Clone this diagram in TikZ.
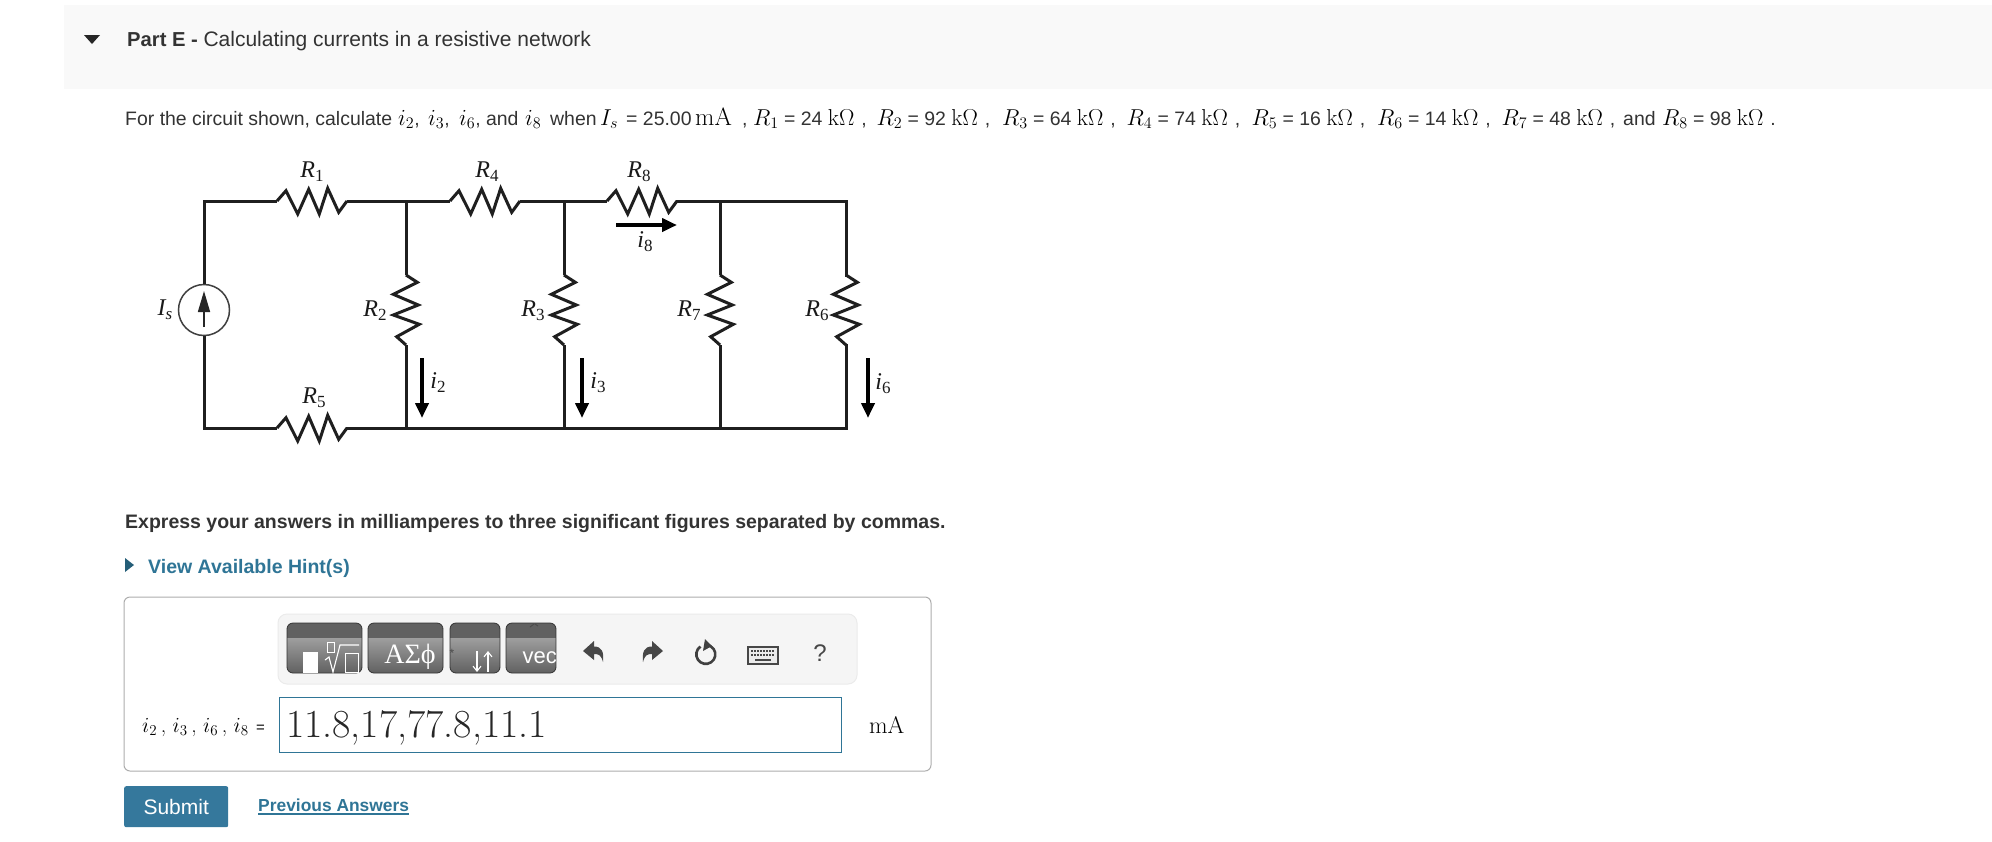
\RequirePackage{fix-cm}
\documentclass[tikz,border=0pt]{standalone}
\usepackage[no-math]{fontspec}
\setsansfont{Liberation Sans}
\newfontfamily\cfont{Liberation Serif}
\usetikzlibrary{arrows.meta}
\definecolor{ink}{HTML}{333333}
\definecolor{teal}{HTML}{2F7596}
\definecolor{btn}{HTML}{35789C}
\tikzset{
 wire/.style={line width=3pt,black!88,line join=miter},
 curarrow/.style={line width=4.6pt,black,-{Triangle[length=15pt,width=13pt]}},
 lab/.style={inner sep=0pt,font=\cfont\fontsize{24}{26}\selectfont,text=black!90},
 txt/.style={inner sep=0pt,anchor=base west,text=ink,font=\sffamily\fontsize{19.45}{24}\selectfont},
 bold/.style={txt,font=\sffamily\bfseries\fontsize{19.5}{24}\selectfont},
 icon/.style={fill=black!72,draw=none},
}
\newcommand{\lbl}[2]{{\itshape #1}\raisebox{-4pt}{\fontsize{17}{18}\selectfont #2}}
\newcommand{\ilbl}[2]{{\itshape #1\raisebox{-4pt}{\fontsize{17}{18}\selectfont #2}}}
\newcommand{\mth}[1]{{\fontsize{23}{24}\selectfont\color{black}$#1$}}
\newcommand{\kOhm}{\mth{\mathrm{k}\Omega}}
\newcommand{\hres}[2]{\draw[wire] (#1) -- ++(9,-10.3) -- ++(11.7,23.3) -- ++(11,-24.7) -- ++(10.6,24.7) -- ++(8.4,-25.7) -- ++(11,24) -- (#2);}
\newcommand{\vres}[2]{\draw[wire] (#1) -- ++(11.3,7.3) -- ++(-24,12) -- ++(25,10.7) -- ++(-25,10) -- ++(26,9.3) -- ++(-22.6,12.4) -- (#2);}
\newcommand{\tbtn}[2]{%
 \begin{scope}
 \clip[rounded corners=6pt] (#1,623) rectangle (#2,673);
 \fill[black!62] (#1,623) rectangle (#2,638);
 \shade[top color=black!38,bottom color=black!62] (#1,638) rectangle (#2,673);
 \end{scope}
 \draw[black!80,line width=0.8pt,rounded corners=6pt] (#1,623) rectangle (#2,673);}
\begin{document}
\begin{tikzpicture}[x=1pt,y=-1pt]
\useasboundingbox (0,0) rectangle (1992,841);
\fill[white] (0,0) rectangle (1992,841);
\fill[black!2.5] (64,5) rectangle (1992,89);
\fill[black!85] (84,35) -- (100,35) -- (92,44) -- cycle;
\node[bold,font=\sffamily\bfseries\fontsize{20.2}{24}\selectfont] (parte) at (127,46) {Part E - \mdseries\fontsize{21}{24}\selectfont Calculating currents in a resistive network};
\node[txt] (t1) at (125,125) {For the circuit shown, calculate};
\node[txt] (t2a) at (398,125) {\mth{i_2},};
\node[txt] (t3a) at (428,125) {\mth{i_3},};
\node[txt] (t4a) at (459,125) {\mth{i_6}, and};
\node[txt] (t5a) at (525,125) {\mth{i_8}};
\node[txt] (t6a) at (550,125) {when};
\node[txt] (t7a) at (600,125) {\mth{I_s}};
\node[txt] (t8a) at (626,125) {= 25.00};
\node[txt] (t9a) at (695,125) {{\fontsize{25}{26}\selectfont\color{black}$\mathrm{mA}$}};
\node[txt] (t10a) at (742,125) {,};
\node[txt] (s1) at (753,125) {\mth{R_1} = 24 \kOhm\hspace{7pt},};
\node[txt] (s2) at (876.5,125) {\mth{R_2} = 92 \kOhm\hspace{7pt},};
\node[txt] (s3) at (1002,125) {\mth{R_3} = 64 \kOhm\hspace{7pt},};
\node[txt] (s4) at (1126.5,125) {\mth{R_4} = 74 \kOhm\hspace{7pt},};
\node[txt] (s5) at (1251.5,125) {\mth{R_5} = 16 \kOhm\hspace{7pt},};
\node[txt] (s6) at (1377,125) {\mth{R_6} = 14 \kOhm\hspace{7pt},};
\node[txt] (s7) at (1501.5,125) {\mth{R_7} = 48 \kOhm\hspace{7pt},};
\node[txt] (s7b) at (1623,125) {and};
\node[txt] (s8) at (1662,125) {\mth{R_8} = 98 \kOhm\hspace{7pt}.};
% circuit
\coordinate (tl) at (203,201); \coordinate (bl) at (203,428);
\coordinate (t2) at (406,201); \coordinate (b2) at (406,428);
\coordinate (t3) at (564,201); \coordinate (b3) at (564,428);
\coordinate (t7) at (720,201); \coordinate (b7) at (720,428);
\coordinate (t6) at (846,201); \coordinate (b6) at (846,428);
\coordinate (r1a) at (277,201); \coordinate (r1b) at (347,201);
\coordinate (r4a) at (450,201); \coordinate (r4b) at (520,201);
\coordinate (r8a) at (607,201); \coordinate (r8b) at (677,201);
\coordinate (r5a) at (277,428); \coordinate (r5b) at (347,428);
\coordinate (r2a) at (406,275); \coordinate (r2b) at (406,345);
\coordinate (r3a) at (564,275); \coordinate (r3b) at (564,345);
\coordinate (r7a) at (720,275); \coordinate (r7b) at (720,345);
\coordinate (r6a) at (846,275); \coordinate (r6b) at (846,345);
\node[circle,draw=black!75,line width=1.5pt,minimum size=51pt,inner sep=0pt] (src) at (204,310) {};
\draw[wire] (src.north) -- (src.north |- tl) -- (r1a);
\draw[wire] (src.south) -- (src.south |- bl) -- (r5a);
\hres{r1a}{r1b} \hres{r4a}{r4b} \hres{r8a}{r8b} \hres{r5a}{r5b}
\vres{r2a}{r2b} \vres{r3a}{r3b} \vres{r7a}{r7b} \vres{r6a}{r6b}
\draw[wire] (r1b) -- (t2) -- (r4a);
\draw[wire] (r4b) -- (t3) -- (r8a);
\draw[wire,line cap=rect] (r8b) -- (t7) -- (t6) -- (r6a);
\draw[wire] (t2) -- (r2a); \draw[wire] (t3) -- (r3a); \draw[wire] (t7) -- (r7a);
\draw[wire] (r2b) -- (b2); \draw[wire] (r3b) -- (b3); \draw[wire] (r7b) -- (b7);
\draw[wire,line cap=rect] (r5b) -- (b2) -- (b3) -- (b7) -- (b6) -- (r6b);
\coordinate (sa) at (204,327); \coordinate (sb) at (204,291);
\draw[line width=1.6pt,black!85,-{Triangle[length=21pt,width=12pt]}] (sa) -- (sb);
\coordinate (a2) at (422,358); \coordinate (a2e) at (422,418);
\coordinate (a3) at (582,358); \coordinate (a3e) at (582,418);
\coordinate (a6) at (868,358); \coordinate (a6e) at (868,418);
\coordinate (a8) at (616,225); \coordinate (a8e) at (677,225);
\draw[curarrow] (a2) -- (a2e); \draw[curarrow] (a3) -- (a3e);
\draw[curarrow] (a6) -- (a6e); \draw[curarrow] (a8) -- (a8e);
\node[lab] (lr1) at (312,172) {\lbl{R}{1}};
\node[lab] (lr4) at (487,172) {\lbl{R}{4}};
\node[lab] (lr8) at (639,172) {\lbl{R}{8}};
\node[lab] (lr5) at (314,398) {\lbl{R}{5}};
\node[lab] (lr2) at (375,311) {\lbl{R}{2}};
\node[lab] (lr3) at (533,311) {\lbl{R}{3}};
\node[lab] (lr7) at (689,311) {\lbl{R}{7}};
\node[lab] (lr6) at (817,311) {\lbl{R}{6}};
\node[lab] (lis) at (165,310) {\ilbl{I}{s}};
\node[lab] (li2) at (438,383) {\lbl{i}{2}};
\node[lab] (li3) at (598,383) {\lbl{i}{3}};
\node[lab] (li6) at (883,384) {\lbl{i}{6}};
\node[lab] (li8) at (645,242) {\lbl{i}{8}};
% instructions
\node[bold] (express) at (125,528) {Express your answers in milliamperes to three significant figures separated by commas.};
\fill[teal!80!black] (125,558) -- (134,565) -- (125,572) -- cycle;
\node[bold,text=teal] (hint) at (148,573) {View Available Hint(s)};
% answer box
\draw[black!32,line width=1pt,rounded corners=6pt] (124,597) rectangle (931,771);
\draw[black!8,fill=black!4,line width=1pt,rounded corners=9pt] (278,614) rectangle (857,684);
\tbtn{287}{362} \tbtn{368}{443} \tbtn{450}{500} \tbtn{506}{556}
\fill[white] (302.5,652) rectangle (318,673);
\draw[white,line width=0.9pt] (327,642) rectangle (334,652) (345,653) rectangle (358,672);
\draw[white,line width=1.1pt] (325,660) -- (329,657) -- (333,672) -- (340,645) -- (359,645);
\node[inner sep=0pt,text=white,font=\cfont\fontsize{28}{30}\selectfont] (greek) at (410,657) {ΑΣϕ};
\node[inner sep=0pt,text=black!70,font=\sffamily\fontsize{12}{12}\selectfont] (star) at (452,653) {*};
\draw[white,line width=1.1pt,-{Straight Barb[length=5pt,width=8pt]}] (477,651) -- (477,672);
\draw[white,line width=1.1pt,-{Straight Barb[length=5pt,width=8pt]}] (488,672) -- (488,651);
\begin{scope}
\clip (506,623) rectangle (556,673);
\node[inner sep=0pt,text=white,font=\sffamily\fontsize{22}{24}\selectfont,anchor=east] (vec) at (557,658) {vec};
\end{scope}
\draw[black!70,line width=1pt] (530,627) -- (534,624) (535,624) -- (538,626);
% undo / redo
\fill[icon] (583,651) -- (594,641) -- (594,646.5) .. controls (602,646.5) and (604,652) .. (603,662) .. controls (601,655) and (599,654) .. (594,654) -- (594,660) -- cycle;
\fill[icon] (663,651) -- (652,641) -- (652,646.5) .. controls (644,646.5) and (642,652) .. (643,662) .. controls (645,655) and (647,654) .. (652,654) -- (652,660) -- cycle;
\draw[black!75,line width=2.6pt] (700.5,646.5) arc[start angle=236,end angle=-90,x radius=9.5pt,y radius=-9.5pt];
\fill[black!75] (705,639) -- (712,646) -- (703,651) -- cycle;
\draw[black!72,fill=black!8,line width=1.3pt] (748,647) rectangle (778,664);
\draw[black!72,line width=2pt,dash pattern=on 2pt off 1pt] (751,651) -- (775,651) (751,655) -- (775,655);
\draw[black!72,line width=1.6pt] (755,660) -- (771,660);
\node[inner sep=0pt,text=black!72,font=\sffamily\fontsize{24}{26}\selectfont] (help) at (820,653) {?};
% input
\node[inner sep=0pt,text=black,font=\rmfamily\fontsize{21.5}{24}\selectfont,anchor=base west] (lhs) at (142,732) {$i_2$\,, $i_3$\,, $i_6$\,, $i_8$ \sffamily\fontsize{15}{18}\selectfont\hspace{1pt}=};
\node[draw=teal,line width=1pt,rectangle,minimum width=562pt,minimum height=55pt,anchor=north west,inner sep=0pt] (input) at (279,697) {};
\node[inner sep=0pt,anchor=base west,text=black!85,font=\rmfamily\fontsize{39.8}{44}\selectfont] (ans) at (286,737) {11.8,17,77.8,11.1};
\node[inner sep=0pt,text=black,font=\rmfamily\fontsize{24}{26}\selectfont,anchor=base west] (unit) at (869,733) {mA};
\node[fill=btn,text=white,rounded corners=2pt,minimum width=104pt,minimum height=41pt,inner sep=0pt,font=\sffamily\fontsize{21}{24}\selectfont,anchor=north west] (submit) at (124,786) {Submit};
\node[bold,text=teal,font=\sffamily\bfseries\fontsize{17.4}{22}\selectfont] (prev) at (258,811) {Previous Answers};
\draw[teal,line width=1.1pt] ([yshift=-3pt]prev.base west) -- ([yshift=-3pt]prev.base east);
\end{tikzpicture}
\end{document}
